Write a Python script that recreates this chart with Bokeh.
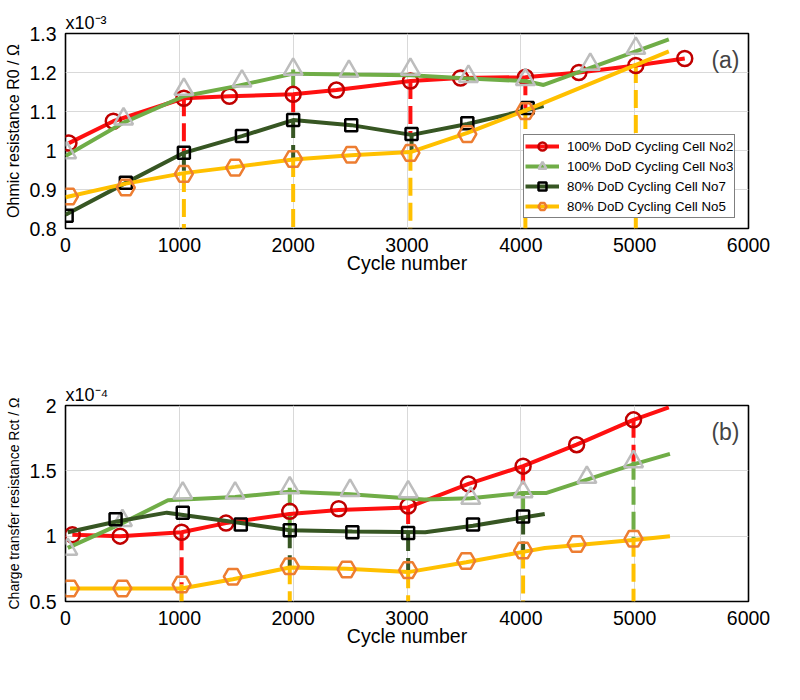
import numpy as np
from bokeh.plotting import figure
from bokeh.models import (Range1d, FixedTicker, CustomJSTickFormatter, Label,
                          Legend, LegendItem, ColumnDataSource)
from bokeh.layouts import column
from bokeh.embed import file_html
from bokeh.resources import INLINE

FONT = "Liberation Sans"

# ---------------------------------------------------------------------------
# Data: cycle number vs. resistance.
# Panel (a): ohmic resistance R0 in units of 1e-3 ohm
# Panel (b): charge transfer resistance Rct in units of 1e-4 ohm
# Each cell has measured points (markers) and a trend line.
# ---------------------------------------------------------------------------
labels = ["100% DoD Cycling Cell No2", "100% DoD Cycling Cell No3",
          "80% DoD Cycling Cell No7", "80% DoD Cycling Cell No5"]

# (a) R0
a_no2_x = [30, 420, 1040, 1440, 2000, 2380, 3030, 3470, 4040, 4510, 5010, 5440]
a_no2_y = [1.019, 1.075, 1.134, 1.139, 1.144, 1.155, 1.178, 1.186, 1.188, 1.200, 1.218, 1.236]
a_no2_lx = a_no2_x
a_no2_ly = a_no2_y

a_no3_x = [10, 510, 1040, 1550, 2000, 2490, 3030, 3540, 4040, 4610, 5010]
a_no3_y = [0.994, 1.081, 1.157, 1.178, 1.208, 1.203, 1.208, 1.190, 1.182, 1.221, 1.262]
a_no3_lx = [0, 500, 1040, 1500, 2000, 2500, 3030, 3500, 4040, 4200, 5300]
a_no3_ly = [0.986, 1.070, 1.139, 1.165, 1.197, 1.195, 1.193, 1.185, 1.178, 1.168, 1.285]

a_no7_x = [10, 530, 1040, 1550, 2000, 2510, 3040, 3530, 4060]
a_no7_y = [0.833, 0.917, 0.994, 1.037, 1.078, 1.065, 1.042, 1.070, 1.109]
a_no7_lx = [0, 530, 1040, 1550, 2000, 2510, 3040, 3530, 4200]
a_no7_ly = [0.835, 0.917, 0.994, 1.037, 1.078, 1.065, 1.040, 1.068, 1.114]

a_no5_x = [30, 530, 1040, 1490, 2000, 2510, 3030, 3530, 4040]
a_no5_y = [0.882, 0.905, 0.940, 0.956, 0.978, 0.989, 0.994, 1.042, 1.101]
a_no5_lx = [0, 530, 1040, 1490, 2000, 2510, 3030, 3530, 4040, 5300]
a_no5_ly = [0.880, 0.915, 0.942, 0.958, 0.977, 0.988, 0.996, 1.045, 1.103, 1.254]

# cycle numbers at which each cell is marked down to the axis
a_no2_drops = [1040, 2000, 3030, 4040]
a_no3_drops = [2000]
a_no7_drops = [1040, 2000, 3040, 4060]
a_no5_drops = [1040, 2000, 3030, 4040, 5010]

# (b) Rct
b_no2_x = [60, 480, 1020, 1410, 1970, 2400, 3010, 3540, 4020, 4490, 4990]
b_no2_y = [1.01, 1.00, 1.03, 1.10, 1.19, 1.21, 1.23, 1.40, 1.536, 1.70, 1.89]
b_no2_lx = [60, 480, 1020, 1410, 1970, 2400, 3010, 3540, 4020, 4490, 4990, 5300]
b_no2_ly = [1.01, 1.00, 1.03, 1.10, 1.17, 1.20, 1.22, 1.40, 1.536, 1.70, 1.89, 1.985]

b_no3_x = [20, 500, 1030, 1490, 1970, 2500, 3010, 3560, 4020, 4580, 4990]
b_no3_y = [0.90, 1.12, 1.33, 1.33, 1.37, 1.35, 1.34, 1.29, 1.34, 1.45, 1.57]
b_no3_lx = [20, 500, 900, 1490, 1970, 2500, 3150, 3560, 4020, 4220, 4990, 5310]
b_no3_ly = [0.91, 1.10, 1.275, 1.30, 1.34, 1.32, 1.28, 1.29, 1.33, 1.33, 1.55, 1.63]

b_no7_x = [440, 1030, 1540, 1970, 2520, 3010, 3580, 4020]
b_no7_y = [1.13, 1.18, 1.09, 1.045, 1.03, 1.025, 1.09, 1.15]
b_no7_lx = [20, 440, 890, 1540, 1970, 2520, 3160, 3580, 4210]
b_no7_ly = [1.03, 1.11, 1.18, 1.10, 1.045, 1.035, 1.03, 1.08, 1.17]

b_no5_x = [40, 500, 1020, 1470, 1970, 2470, 3010, 3520, 4020, 4490, 4990]
b_no5_y = [0.60, 0.60, 0.63, 0.69, 0.77, 0.745, 0.74, 0.81, 0.89, 0.94, 0.98]
b_no5_lx = [40, 1020, 1470, 1970, 2470, 3010, 3520, 4020, 4210, 4990, 5310]
b_no5_ly = [0.60, 0.60, 0.67, 0.76, 0.75, 0.725, 0.80, 0.88, 0.91, 0.97, 1.00]

b_no2_drops = [1020, 3010, 4020, 4990]
b_no3_drops = [1970, 4020, 4990]
b_no7_drops = [1970, 3010, 4020]
b_no5_drops = [1020, 1970, 3010, 4020, 4990]

x_ticks = [0, 1000, 2000, 3000, 4000, 5000, 6000]
a_y_ticks = [0.8, 0.9, 1.0, 1.1, 1.2, 1.3]
b_y_ticks = [0.5, 1.0, 1.5, 2.0]

# styling per cell: line colour, marker, marker edge colour, marker size
styles = [
    dict(line="#ff1010", marker="circle", edge="#c00000", size=15),
    dict(line="#70ad47", marker="triangle", edge="#bdbdbd", size=19),
    dict(line="#375623", marker="square", edge="#000000", size=12),
    dict(line="#ffc000", marker="hex", edge="#ed7d31", size=18),
]


def drop_value(dx, mx, my, lx, ly):
    if dx in mx:
        return my[mx.index(dx)]
    return float(np.interp(dx, lx, ly))


def drop_segments(series, drops, y_lo):
    """Dashed drops: each cell's segment runs from its value down to the
    next lower cell marked at the same cycle count, the lowest to the axis."""
    groups = {}
    for (mx, my, lx, ly), dl, st in zip(series, drops, styles):
        for dx in dl:
            key = int(round(dx / 1000.0))
            groups.setdefault(key, []).append(
                (drop_value(dx, mx, my, lx, ly), dx, st["line"]))
    x0, y0, y1, col = [], [], [], []
    for key in sorted(groups):
        pts = sorted(groups[key], reverse=True)
        for i, (v, dx, c) in enumerate(pts):
            x0.append(dx)
            y0.append(v)
            y1.append(pts[i + 1][0] if i + 1 < len(pts) else y_lo)
            col.append(c)
    return ColumnDataSource(dict(x0=x0, y0=y0, y1=y1, c=col))


def make_panel(series, drops, y_lo, y_hi, y_ticks, ylabel, ylabel_size,
               mult_text, tag, height, borders, legend_loc=None):
    left, right, top, bottom = borders
    p = figure(width=800, height=height, output_backend="svg",
               toolbar_location=None, x_range=Range1d(0, 6000),
               y_range=Range1d(y_lo, y_hi),
               min_border_left=left, min_border_right=right,
               min_border_top=top, min_border_bottom=bottom)
    p.background_fill_color = "white"
    p.border_fill_color = "white"
    p.outline_line_color = "black"
    p.outline_line_width = 1.6

    # axis multiplier above the top-left corner of the frame
    p.title.text = mult_text
    p.title.align = "left"
    p.title.text_font = FONT
    p.title.text_font_size = "18px"
    p.title.text_font_style = "normal"
    p.title.text_color = "black"
    p.title.standoff = 2

    p.xaxis.ticker = FixedTicker(ticks=x_ticks)
    p.yaxis.ticker = FixedTicker(ticks=y_ticks)
    p.yaxis.formatter = CustomJSTickFormatter(
        code="return Number(tick.toFixed(3)).toString();")
    for ax in (p.xaxis, p.yaxis):
        ax.axis_line_color = None
        ax.major_tick_line_color = None
        ax.minor_tick_line_color = None
        ax.major_label_text_font = FONT
        ax.major_label_text_font_size = "19.5px"
        ax.major_label_text_color = "black"
        ax.axis_label_text_font = FONT
        ax.axis_label_text_font_style = "normal"
        ax.axis_label_text_color = "black"
        ax.major_label_standoff = 3
    p.xaxis.axis_label = "Cycle number"
    p.xaxis.axis_label_text_font_size = "19.5px"
    p.xaxis.axis_label_standoff = -3
    p.yaxis.axis_label = ylabel
    p.yaxis.axis_label_text_font_size = ylabel_size
    p.yaxis.axis_label_standoff = 4

    p.grid.grid_line_color = "#d9d9d9"
    p.grid.grid_line_width = 1

    p.segment(x0="x0", y0="y0", x1="x0", y1="y1",
              source=drop_segments(series, drops, y_lo),
              line_color="c", line_width=4, line_dash="18 7")

    items = []
    for (mx, my, lx, ly), st, lab in zip(series, styles, labels):
        lr = p.line(lx, ly, line_color=st["line"], line_width=4)
        mr = p.scatter(mx, my, marker=st["marker"], size=st["size"],
                       fill_alpha=0, line_color=st["edge"], line_width=2.5)
        items.append(LegendItem(label=lab, renderers=[lr, mr]))

    if legend_loc is not None:
        leg = Legend(items=items, location=legend_loc)
        leg.label_text_font = FONT
        leg.label_text_font_size = "13.3px"
        leg.label_text_color = "black"
        leg.glyph_width = 34
        leg.glyph_height = 20
        leg.label_height = 20
        leg.spacing = 0
        leg.padding = 1
        leg.margin = 0
        leg.label_standoff = 8
        leg.border_line_color = "black"
        leg.border_line_width = 1.2
        leg.background_fill_color = "white"
        leg.background_fill_alpha = 1
        p.add_layout(leg)

    # panel tag in the upper right
    p.add_layout(Label(x=6000, y=y_hi, text=tag, text_font=FONT,
                       text_font_size="23px", text_align="right",
                       text_baseline="top", x_offset=-9, y_offset=-13))
    return p


pa = make_panel(
    [(a_no2_x, a_no2_y, a_no2_lx, a_no2_ly),
     (a_no3_x, a_no3_y, a_no3_lx, a_no3_ly),
     (a_no7_x, a_no7_y, a_no7_lx, a_no7_ly),
     (a_no5_x, a_no5_y, a_no5_lx, a_no5_ly)],
    [a_no2_drops, a_no3_drops, a_no7_drops, a_no5_drops],
    0.8, 1.3, a_y_ticks, "Ohmic resistance R0 / \u03a9", "16px",
    "x10\u207b\u00b3", "(a)", 300, (65, 48, 33, 72), legend_loc=(458, 10))

pb = make_panel(
    [(b_no2_x, b_no2_y, b_no2_lx, b_no2_ly),
     (b_no3_x, b_no3_y, b_no3_lx, b_no3_ly),
     (b_no7_x, b_no7_y, b_no7_lx, b_no7_ly),
     (b_no5_x, b_no5_y, b_no5_lx, b_no5_ly)],
    [b_no2_drops, b_no3_drops, b_no7_drops, b_no5_drops],
    0.5, 2.0, b_y_ticks, "Charge transfer resistance Rct / \u03a9", "14px",
    "x10\u207b\u2074", "(b)", 400, (59, 52, 105, 99))

layout = column(pa, pb, spacing=0)
open("out.html", "w").write(file_html(layout, INLINE))
